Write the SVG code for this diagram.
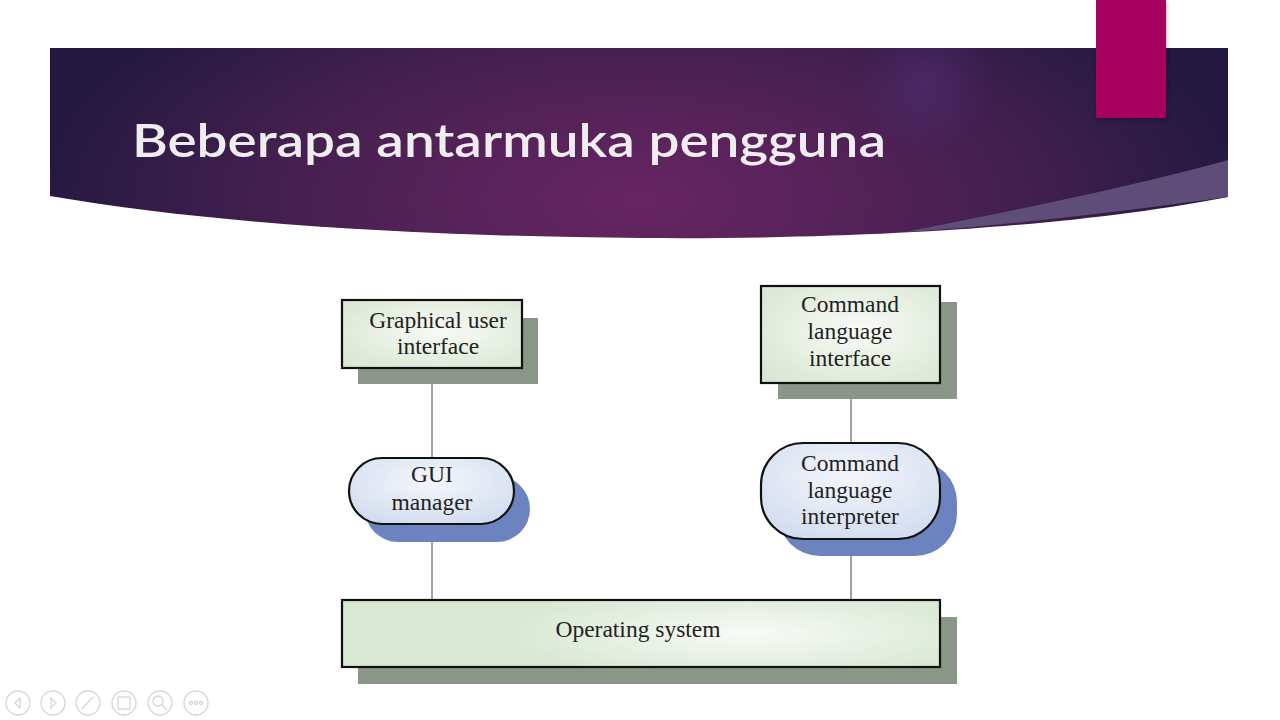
<svg xmlns="http://www.w3.org/2000/svg" width="1280" height="720" viewBox="0 0 1280 720">
<defs>
<radialGradient id="bannerG" cx="640" cy="200" r="620" gradientUnits="userSpaceOnUse" gradientTransform="translate(640 200) scale(1 0.45) translate(-640 -200)">
<stop offset="0" stop-color="#682563"/>
<stop offset="0.55" stop-color="#472051"/>
<stop offset="1" stop-color="#221840"/>
</radialGradient>
<radialGradient id="spotG" cx="925" cy="85" r="70" gradientUnits="userSpaceOnUse">
<stop offset="0" stop-color="#4a2a68" stop-opacity="0.8"/>
<stop offset="1" stop-color="#4a2a68" stop-opacity="0"/>
</radialGradient>
<clipPath id="bannerClip">
<path d="M50 48 H1228 V197 C1100 222 900 240 640 238 C400 236 200 222 50 196 Z"/>
</clipPath>
<radialGradient id="boxG" cx="0.55" cy="0.45" r="0.7">
<stop offset="0" stop-color="#f8faf6"/>
<stop offset="1" stop-color="#d8e7d2"/>
</radialGradient>
<radialGradient id="osG" cx="0.68" cy="0.5" r="0.7" gradientTransform="translate(0.68 0.5) scale(0.6 1) translate(-0.68 -0.5)">
<stop offset="0" stop-color="#f8faf6"/>
<stop offset="1" stop-color="#d8e8d3"/>
</radialGradient>
<radialGradient id="pillG" cx="0.5" cy="0.35" r="0.7">
<stop offset="0" stop-color="#f4f6fb"/>
<stop offset="1" stop-color="#d2dcef"/>
</radialGradient>
<filter id="sh" x="-10%" y="-10%" width="130%" height="130%">
<feGaussianBlur stdDeviation="2"/>
</filter>
</defs>
<style>
.shadowG{fill:#8a9688}
.shadowB{fill:#6b84c0}
.box{stroke:#111;stroke-width:2.2}
.lbl{font-family:"Liberation Serif","Times New Roman",serif;font-size:23.5px;fill:#222;text-anchor:middle}
.conn{stroke:#444;stroke-width:1;fill:none}
.ico{fill:none;stroke:#d6d6d6;stroke-width:1.3}
</style>
<rect width="1280" height="720" fill="#ffffff"/>
<!-- banner -->
<g id="banner">
<path d="M50 48 H1228 V197 C1100 222 900 240 640 238 C400 236 200 222 50 196 Z" fill="url(#bannerG)"/>
<ellipse cx="925" cy="85" rx="70" ry="60" fill="url(#spotG)" clip-path="url(#bannerClip)"/>
<path d="M1228 160 C1120 190 990 215 905 232 C1000 226 1120 212 1228 197 Z" fill="#5e4d78"/>
<rect x="1096" y="0" width="70" height="118" fill="#000" opacity="0.25" filter="url(#sh)" transform="translate(1 2)"/>
<rect x="1096" y="0" width="70" height="118" fill="#a8005e"/>
<text x="132" y="157" font-family="Lato, 'Open Sans', sans-serif" font-weight="600" font-size="47" fill="#efedf0" textLength="754" lengthAdjust="spacingAndGlyphs">Beberapa antarmuka pengguna</text>
</g>
<!-- connectors -->
<g id="connectors">
<line class="conn" x1="432" y1="368" x2="432" y2="458"/>
<line class="conn" x1="432" y1="524" x2="432" y2="600"/>
<line class="conn" x1="851" y1="383" x2="851" y2="443"/>
<line class="conn" x1="851" y1="539" x2="851" y2="600"/>
</g>
<g id="gui">
<rect class="shadowG" x="358" y="318" width="180" height="66"/>
<rect class="box" x="342" y="300" width="180" height="68" fill="url(#boxG)"/>
<text class="lbl" x="438" y="328">Graphical user</text>
<text class="lbl" x="438" y="354">interface</text>
</g>
<g id="cli">
<rect class="shadowG" x="778" y="302" width="179" height="97"/>
<rect class="box" x="761" y="286" width="179" height="97" fill="url(#boxG)"/>
<text class="lbl" x="850" y="312">Command</text>
<text class="lbl" x="850" y="339">language</text>
<text class="lbl" x="850" y="366">interface</text>
</g>
<g id="guimgr">
<rect class="shadowB" x="365" y="476" width="165" height="66" rx="33"/>
<rect class="box" x="349" y="458" width="165" height="66" rx="33" fill="url(#pillG)"/>
<text class="lbl" x="432" y="482">GUI</text>
<text class="lbl" x="432" y="510">manager</text>
</g>
<g id="clinterp">
<rect class="shadowB" x="778" y="460" width="179" height="96" rx="42"/>
<rect class="box" x="761" y="443" width="179" height="96" rx="42" fill="url(#pillG)"/>
<text class="lbl" x="850" y="471">Command</text>
<text class="lbl" x="850" y="498">language</text>
<text class="lbl" x="850" y="524">interpreter</text>
</g>
<g id="os">
<rect class="shadowG" x="358" y="617" width="599" height="67"/>
<rect class="box" x="342" y="600" width="598" height="67" fill="url(#osG)"/>
<text class="lbl" x="638" y="637">Operating system</text>
</g>
<!-- toolbar -->
<g id="toolbar">
<circle class="ico" cx="18" cy="703" r="12"/><path class="ico" d="M20 698 L15 703 L20 708 Z"/>
<circle class="ico" cx="53" cy="703" r="12"/><path class="ico" d="M51 698 L56 703 L51 708 Z"/>
<circle class="ico" cx="88" cy="703" r="12"/><path class="ico" d="M82 709 L93 697"/>
<circle class="ico" cx="124" cy="703" r="12"/><rect class="ico" x="118" y="697" width="12" height="12"/>
<circle class="ico" cx="160" cy="703" r="12"/><circle class="ico" cx="158" cy="701" r="5"/><path class="ico" d="M162 705 L167 710"/>
<circle class="ico" cx="196" cy="703" r="12"/><circle class="ico" cx="191" cy="703" r="1.5"/><circle class="ico" cx="196" cy="703" r="1.5"/><circle class="ico" cx="201" cy="703" r="1.5"/>
</g>
</svg>
